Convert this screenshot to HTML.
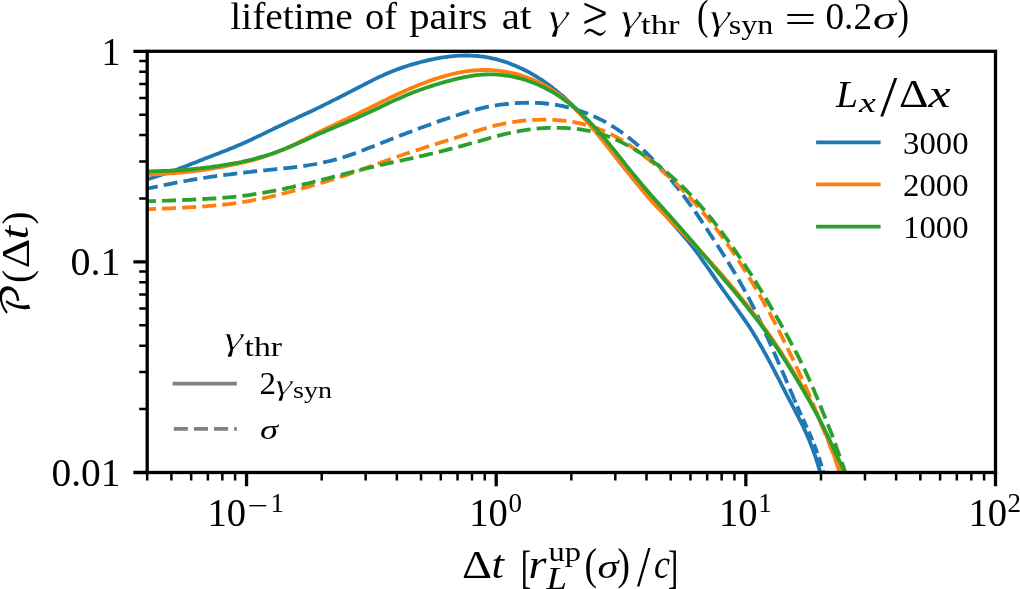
<!DOCTYPE html>
<html lang="en"><head><meta charset="utf-8"><title>lifetime of pairs</title>
<style>html,body{margin:0;padding:0;background:#fff;overflow:hidden}svg{display:block}text{font-family:"Liberation Serif","DejaVu Serif",serif;fill:#000}.i{font-style:italic}.m{font-family:"DejaVu Math TeX Gyre","DejaVu Sans","Liberation Serif",serif}</style></head><body>
<svg width="1020" height="589" viewBox="0 0 1020 589">
<rect width="1020" height="589" fill="#fff"/>
<defs><clipPath id="ax"><rect x="147.2" y="51.3" width="848.3" height="421.2"/></clipPath></defs>
<g clip-path="url(#ax)" fill="none" stroke-linejoin="round">
<path d="M140.1 181.4 L142.9 180.6 L145.8 179.7 L148.7 178.8 L151.5 178.0 L154.4 177.1 L157.3 176.2 L160.1 175.3 L163.0 174.3 L165.8 173.4 L168.6 172.4 L171.5 171.5 L174.3 170.5 L177.1 169.5 L179.9 168.4 L182.7 167.4 L185.5 166.3 L188.3 165.2 L191.1 164.1 L193.9 163.0 L196.6 161.9 L199.4 160.8 L202.2 159.7 L205.0 158.6 L207.8 157.5 L210.6 156.4 L213.4 155.3 L216.2 154.3 L219.0 153.2 L221.8 152.1 L224.6 151.0 L227.3 149.9 L230.1 148.8 L232.9 147.7 L235.7 146.5 L238.4 145.3 L241.2 144.2 L243.9 142.9 L246.6 141.7 L249.4 140.5 L252.1 139.2 L254.8 137.9 L257.5 136.6 L260.2 135.4 L262.9 134.1 L265.6 132.8 L268.3 131.4 L271.0 130.1 L273.7 128.8 L276.4 127.5 L279.1 126.2 L281.8 125.0 L284.5 123.7 L287.2 122.4 L289.9 121.1 L292.7 119.9 L295.4 118.6 L298.1 117.3 L300.8 116.1 L303.5 114.8 L306.2 113.5 L308.9 112.3 L311.7 111.0 L314.4 109.7 L317.1 108.4 L319.8 107.1 L322.5 105.8 L325.1 104.4 L327.8 103.1 L330.5 101.8 L333.2 100.4 L335.9 99.1 L338.6 97.7 L341.2 96.4 L343.9 95.0 L346.6 93.6 L349.2 92.3 L351.9 90.9 L354.6 89.5 L357.2 88.1 L359.9 86.7 L362.6 85.4 L365.2 84.0 L367.9 82.6 L370.6 81.3 L373.2 79.9 L375.9 78.6 L378.6 77.3 L381.4 76.1 L384.1 74.8 L386.8 73.6 L389.6 72.4 L392.3 71.3 L395.1 70.2 L397.9 69.1 L400.7 68.1 L403.6 67.1 L406.4 66.2 L409.3 65.3 L412.1 64.4 L415.0 63.6 L417.9 62.8 L420.8 62.0 L423.7 61.3 L426.7 60.6 L429.6 59.9 L432.5 59.3 L435.5 58.7 L438.4 58.1 L441.4 57.6 L444.4 57.2 L447.3 56.8 L450.3 56.4 L453.3 56.1 L456.3 55.9 L459.3 55.7 L462.3 55.6 L465.3 55.5 L468.2 55.5 L471.2 55.6 L474.2 55.8 L477.2 56.0 L480.2 56.3 L483.1 56.7 L486.1 57.2 L489.0 57.7 L492.0 58.3 L494.9 58.9 L497.8 59.7 L500.6 60.5 L503.5 61.4 L506.4 62.3 L509.2 63.3 L512.0 64.4 L514.8 65.5 L517.5 66.7 L520.2 67.9 L522.9 69.2 L525.6 70.5 L528.3 71.9 L530.9 73.4 L533.5 74.9 L536.1 76.4 L538.6 78.0 L541.2 79.6 L543.6 81.3 L546.1 83.0 L548.5 84.8 L551.0 86.6 L553.3 88.4 L555.7 90.3 L558.0 92.2 L560.3 94.1 L562.6 96.0 L564.8 98.0 L567.0 100.1 L569.2 102.1 L571.4 104.2 L573.6 106.3 L575.7 108.4 L577.8 110.5 L579.8 112.7 L581.9 114.9 L583.9 117.1 L585.9 119.4 L587.9 121.6 L589.8 123.9 L591.8 126.2 L593.7 128.5 L595.6 130.8 L597.4 133.1 L599.3 135.5 L601.2 137.9 L603.0 140.2 L604.8 142.6 L606.6 145.0 L608.5 147.4 L610.3 149.8 L612.1 152.2 L613.9 154.6 L615.7 156.9 L617.6 159.3 L619.4 161.7 L621.3 164.0 L623.1 166.4 L625.0 168.7 L626.9 171.1 L628.8 173.4 L630.7 175.7 L632.6 178.0 L634.5 180.3 L636.5 182.6 L638.4 184.9 L640.4 187.1 L642.3 189.4 L644.3 191.7 L646.3 193.9 L648.3 196.1 L650.3 198.4 L652.2 200.6 L654.3 202.9 L656.3 205.1 L658.3 207.3 L660.3 209.5 L662.3 211.8 L664.3 214.0 L666.3 216.2 L668.3 218.5 L670.3 220.7 L672.3 222.9 L674.3 225.2 L676.3 227.4 L678.2 229.7 L680.2 231.9 L682.2 234.2 L684.1 236.5 L686.0 238.8 L688.0 241.1 L689.8 243.4 L691.7 245.7 L693.6 248.1 L695.4 250.4 L697.2 252.8 L699.0 255.2 L700.7 257.7 L702.4 260.1 L704.1 262.6 L705.9 265.0 L707.6 267.5 L709.3 269.9 L711.0 272.4 L712.7 274.9 L714.4 277.3 L716.1 279.8 L717.8 282.3 L719.5 284.7 L721.3 287.1 L723.0 289.6 L724.7 292.0 L726.5 294.5 L728.2 296.9 L730.0 299.3 L731.8 301.8 L733.5 304.2 L735.3 306.6 L737.0 309.1 L738.8 311.5 L740.5 314.0 L742.2 316.4 L743.9 318.9 L745.6 321.3 L747.3 323.8 L749.0 326.3 L750.6 328.8 L752.2 331.3 L753.8 333.9 L755.4 336.4 L756.9 339.0 L758.4 341.6 L759.9 344.2 L761.4 346.8 L762.9 349.4 L764.3 352.0 L765.8 354.6 L767.2 357.2 L768.6 359.9 L770.1 362.5 L771.5 365.2 L772.9 367.8 L774.3 370.5 L775.6 373.1 L777.0 375.8 L778.4 378.5 L779.8 381.1 L781.1 383.8 L782.5 386.5 L783.9 389.1 L785.2 391.8 L786.6 394.5 L788.0 397.1 L789.4 399.8 L790.8 402.4 L792.2 405.1 L793.6 407.8 L795.0 410.4 L796.3 413.1 L797.7 415.7 L799.1 418.4 L800.4 421.1 L801.8 423.8 L803.1 426.5 L804.3 429.2 L805.6 431.9 L806.8 434.6 L808.0 437.4 L809.2 440.1 L810.3 442.9 L811.4 445.7 L812.5 448.5 L813.5 451.3 L814.5 454.1 L815.5 456.9 L816.4 459.8 L817.3 462.6 L818.2 465.5 L819.1 468.4 L819.9 471.2 L820.8 474.1 L821.6 477.0 L822.4 479.9" stroke="#1f77b4" stroke-width="3.8" stroke-linecap="square"/>
<path d="M147.2 188.6 L150.1 188.0 L153.0 187.4 L156.0 186.8 L158.9 186.2 L161.8 185.6 L164.8 185.0 L167.7 184.4 L170.6 183.8 L173.6 183.2 L176.5 182.6 L179.4 182.1 L182.4 181.5 L185.3 181.0 L188.3 180.5 L191.2 179.9 L194.2 179.4 L197.1 179.0 L200.1 178.5 L203.0 178.0 L206.0 177.6 L209.0 177.1 L211.9 176.7 L214.9 176.3 L217.8 175.9 L220.8 175.5 L223.8 175.1 L226.7 174.7 L229.7 174.4 L232.7 174.0 L235.6 173.6 L238.6 173.3 L241.6 172.9 L244.6 172.6 L247.5 172.2 L250.5 171.9 L253.5 171.5 L256.5 171.2 L259.4 170.9 L262.4 170.6 L265.4 170.3 L268.4 169.9 L271.3 169.6 L274.3 169.3 L277.3 169.0 L280.3 168.7 L283.3 168.4 L286.2 168.1 L289.2 167.8 L292.2 167.5 L295.2 167.1 L298.1 166.7 L301.1 166.3 L304.1 165.9 L307.0 165.5 L310.0 165.0 L312.9 164.5 L315.9 164.0 L318.8 163.4 L321.7 162.8 L324.6 162.2 L327.5 161.5 L330.5 160.8 L333.3 160.1 L336.2 159.3 L339.1 158.5 L342.0 157.7 L344.8 156.8 L347.7 155.9 L350.5 154.9 L353.3 153.9 L356.1 152.9 L358.9 151.9 L361.7 150.8 L364.5 149.7 L367.3 148.6 L370.1 147.5 L372.9 146.4 L375.6 145.3 L378.4 144.2 L381.2 143.1 L384.0 142.0 L386.8 140.9 L389.5 139.8 L392.3 138.7 L395.1 137.6 L397.9 136.5 L400.7 135.4 L403.5 134.4 L406.3 133.3 L409.1 132.2 L411.9 131.2 L414.7 130.1 L417.5 129.1 L420.3 128.0 L423.1 127.0 L425.9 126.0 L428.7 125.0 L431.6 124.0 L434.4 122.9 L437.2 121.9 L440.0 120.9 L442.8 119.9 L445.7 119.0 L448.5 118.0 L451.3 117.0 L454.2 116.1 L457.0 115.2 L459.9 114.3 L462.7 113.4 L465.6 112.5 L468.5 111.7 L471.4 110.8 L474.2 110.1 L477.1 109.3 L480.0 108.6 L482.9 107.9 L485.9 107.2 L488.8 106.6 L491.7 106.1 L494.7 105.6 L497.6 105.1 L500.6 104.7 L503.5 104.3 L506.5 104.0 L509.5 103.7 L512.5 103.4 L515.5 103.2 L518.5 103.0 L521.4 102.9 L524.4 102.8 L527.4 102.7 L530.4 102.8 L533.4 102.8 L536.4 102.9 L539.4 103.0 L542.4 103.2 L545.4 103.5 L548.4 103.8 L551.3 104.2 L554.3 104.6 L557.2 105.0 L560.2 105.6 L563.1 106.2 L566.0 106.8 L568.9 107.6 L571.8 108.3 L574.7 109.2 L577.5 110.0 L580.4 111.0 L583.2 112.0 L586.0 113.0 L588.8 114.1 L591.5 115.3 L594.3 116.5 L597.0 117.7 L599.7 119.1 L602.3 120.4 L605.0 121.8 L607.6 123.3 L610.1 124.8 L612.7 126.4 L615.2 128.0 L617.7 129.6 L620.2 131.3 L622.6 133.1 L625.0 134.8 L627.4 136.6 L629.8 138.5 L632.1 140.4 L634.4 142.3 L636.7 144.2 L639.0 146.1 L641.2 148.1 L643.4 150.2 L645.6 152.2 L647.8 154.3 L649.9 156.4 L652.0 158.5 L654.1 160.6 L656.2 162.8 L658.2 165.0 L660.2 167.2 L662.2 169.5 L664.2 171.7 L666.1 174.0 L668.1 176.3 L670.0 178.6 L671.9 180.9 L673.8 183.2 L675.7 185.5 L677.5 187.9 L679.4 190.2 L681.2 192.6 L683.0 195.0 L684.8 197.4 L686.6 199.8 L688.3 202.2 L690.1 204.6 L691.8 207.1 L693.6 209.5 L695.3 211.9 L697.0 214.4 L698.7 216.9 L700.4 219.3 L702.0 221.8 L703.7 224.3 L705.3 226.8 L707.0 229.3 L708.6 231.8 L710.2 234.3 L711.9 236.8 L713.5 239.3 L715.2 241.8 L716.8 244.3 L718.4 246.8 L720.0 249.4 L721.7 251.9 L723.3 254.4 L724.9 256.9 L726.4 259.5 L728.0 262.0 L729.6 264.6 L731.1 267.1 L732.7 269.7 L734.2 272.2 L735.8 274.8 L737.3 277.4 L738.8 280.0 L740.3 282.6 L741.7 285.2 L743.2 287.8 L744.6 290.4 L746.1 293.0 L747.5 295.7 L748.9 298.3 L750.3 301.0 L751.6 303.6 L753.0 306.3 L754.3 308.9 L755.6 311.6 L756.9 314.3 L758.2 317.0 L759.5 319.7 L760.7 322.5 L761.9 325.2 L763.2 327.9 L764.4 330.6 L765.6 333.4 L766.8 336.1 L768.0 338.8 L769.2 341.6 L770.5 344.3 L771.7 347.0 L772.9 349.8 L774.1 352.5 L775.3 355.2 L776.5 358.0 L777.7 360.7 L778.9 363.4 L780.1 366.2 L781.3 368.9 L782.5 371.7 L783.7 374.4 L784.9 377.2 L786.0 379.9 L787.2 382.7 L788.4 385.4 L789.5 388.2 L790.7 390.9 L791.9 393.7 L793.0 396.4 L794.2 399.2" stroke="#1f77b4" stroke-width="3.8" stroke-dasharray="14.06 6.08" stroke-dashoffset="3.3"/>
<path d="M794.2 399.2 L795.4 401.9 L796.6 404.7 L797.8 407.4 L799.0 410.2 L800.2 412.9 L801.5 415.6 L802.7 418.3 L803.9 421.0 L805.2 423.8 L806.4 426.5 L807.7 429.2 L808.9 431.9 L810.1 434.7 L811.3 437.4 L812.4 440.2 L813.5 442.9 L814.6 445.7 L815.7 448.5 L816.7 451.3 L817.7 454.1 L818.7 456.9 L819.6 459.8 L820.5 462.6 L821.4 465.5 L822.2 468.4 L823.1 471.2 L823.9 474.1 L824.7 477.0 L825.5 479.8" stroke="#1f77b4" stroke-width="3.8" stroke-dasharray="9.6 4.2" stroke-dashoffset="6"/>
<path d="M140.0 175.0 L143.0 174.9 L146.0 174.7 L149.0 174.6 L152.0 174.4 L155.0 174.3 L157.9 174.1 L160.9 174.0 L163.9 173.8 L166.9 173.6 L169.9 173.4 L172.9 173.2 L175.9 173.0 L178.8 172.7 L181.8 172.5 L184.8 172.2 L187.8 171.9 L190.7 171.6 L193.7 171.2 L196.7 170.8 L199.6 170.4 L202.6 170.0 L205.6 169.6 L208.5 169.1 L211.5 168.7 L214.4 168.2 L217.4 167.7 L220.3 167.2 L223.3 166.6 L226.2 166.1 L229.2 165.5 L232.1 164.9 L235.0 164.3 L237.9 163.7 L240.9 163.0 L243.8 162.3 L246.7 161.6 L249.6 160.9 L252.5 160.1 L255.3 159.3 L258.2 158.5 L261.1 157.6 L263.9 156.7 L266.8 155.8 L269.6 154.8 L272.4 153.8 L275.2 152.7 L278.0 151.7 L280.7 150.5 L283.5 149.4 L286.2 148.2 L288.9 146.9 L291.6 145.7 L294.3 144.4 L297.0 143.1 L299.7 141.8 L302.4 140.4 L305.1 139.1 L307.7 137.7 L310.4 136.4 L313.1 135.1 L315.8 133.7 L318.4 132.4 L321.1 131.1 L323.8 129.8 L326.5 128.5 L329.2 127.2 L331.9 125.9 L334.6 124.6 L337.3 123.3 L340.0 122.1 L342.7 120.8 L345.5 119.6 L348.2 118.3 L350.9 117.0 L353.6 115.7 L356.3 114.5 L359.0 113.2 L361.7 111.8 L364.3 110.5 L367.0 109.2 L369.7 107.9 L372.4 106.5 L375.1 105.2 L377.7 103.9 L380.4 102.5 L383.1 101.2 L385.8 99.9 L388.5 98.5 L391.2 97.2 L393.9 96.0 L396.6 94.7 L399.3 93.4 L402.0 92.2 L404.7 91.0 L407.5 89.8 L410.2 88.6 L413.0 87.4 L415.8 86.3 L418.5 85.1 L421.3 84.0 L424.1 83.0 L426.9 81.9 L429.8 80.9 L432.6 79.9 L435.4 78.9 L438.3 78.0 L441.1 77.1 L444.0 76.3 L446.9 75.5 L449.8 74.7 L452.7 74.0 L455.6 73.3 L458.6 72.7 L461.5 72.2 L464.4 71.6 L467.4 71.2 L470.4 70.8 L473.3 70.5 L476.3 70.3 L479.3 70.1 L482.3 70.0 L485.2 69.9 L488.2 70.0 L491.2 70.1 L494.2 70.3 L497.2 70.6 L500.1 70.9 L503.1 71.3 L506.0 71.8 L509.0 72.3 L511.9 73.0 L514.8 73.7 L517.7 74.4 L520.6 75.3 L523.4 76.2 L526.3 77.2 L529.1 78.2 L531.9 79.3 L534.6 80.5 L537.3 81.7 L540.0 83.0 L542.7 84.4 L545.3 85.8 L547.9 87.3 L550.4 88.9 L552.9 90.5 L555.4 92.1 L557.8 93.9 L560.2 95.7 L562.6 97.5 L564.9 99.4 L567.1 101.3 L569.4 103.3 L571.5 105.4 L573.7 107.4 L575.8 109.5 L577.9 111.7 L580.0 113.8 L582.0 116.1 L584.0 118.3 L586.0 120.5 L588.0 122.8 L589.9 125.1 L591.8 127.4 L593.8 129.7 L595.7 132.0 L597.6 134.3 L599.5 136.7 L601.4 139.0 L603.3 141.3 L605.2 143.6 L607.0 146.0 L608.9 148.3 L610.8 150.6 L612.7 153.0 L614.6 155.3 L616.4 157.6 L618.3 160.0 L620.2 162.3 L622.0 164.7 L623.9 167.0 L625.7 169.4 L627.6 171.7 L629.4 174.1 L631.3 176.4 L633.1 178.8 L635.0 181.1 L636.8 183.5 L638.7 185.8 L640.6 188.1 L642.4 190.4 L644.3 192.7 L646.3 195.0 L648.2 197.3 L650.2 199.5 L652.2 201.7 L654.2 203.9 L656.3 206.1 L658.3 208.2 L660.4 210.4 L662.5 212.5 L664.6 214.6 L666.7 216.8 L668.8 218.9 L670.9 221.0 L673.0 223.1 L675.1 225.2 L677.3 227.3 L679.4 229.5 L681.5 231.6 L683.6 233.7 L685.7 235.8 L687.8 238.0 L689.9 240.1 L692.0 242.3 L694.0 244.4 L696.1 246.6 L698.2 248.8 L700.2 250.9 L702.3 253.1 L704.3 255.3 L706.3 257.5 L708.4 259.7 L710.4 261.9 L712.4 264.1 L714.4 266.4 L716.4 268.6 L718.4 270.8 L720.4 273.1 L722.3 275.3 L724.3 277.6 L726.2 279.9 L728.2 282.1 L730.1 284.4 L732.0 286.7 L734.0 289.0 L735.9 291.3 L737.8 293.6 L739.7 295.9 L741.5 298.3 L743.4 300.6 L745.3 302.9 L747.2 305.3 L749.0 307.6 L750.9 310.0 L752.7 312.3 L754.5 314.7 L756.3 317.1 L758.1 319.5 L759.9 321.9 L761.7 324.3 L763.5 326.7 L765.2 329.1 L767.0 331.5 L768.7 334.0 L770.4 336.4 L772.1 338.9 L773.8 341.4 L775.5 343.9 L777.1 346.3 L778.8 348.8 L780.4 351.3 L782.1 353.9 L783.7 356.4 L785.3 358.9 L786.9 361.4 L788.5 363.9 L790.1 366.5 L791.7 369.0 L793.3 371.6 L794.8 374.1 L796.4 376.7 L797.9 379.2 L799.5 381.8 L801.0 384.4 L802.5 387.0 L804.0 389.6 L805.5 392.2 L806.9 394.8 L808.4 397.4 L809.8 400.0 L811.2 402.7 L812.6 405.3 L813.9 408.0 L815.3 410.6 L816.6 413.3 L817.8 416.0 L819.1 418.7 L820.3 421.5 L821.5 424.2 L822.7 426.9 L823.9 429.7 L825.1 432.4 L826.2 435.2 L827.4 438.0 L828.5 440.7 L829.6 443.5 L830.7 446.3 L831.8 449.1 L832.9 451.9 L833.9 454.7 L834.9 457.5 L836.0 460.3 L837.0 463.1 L838.0 465.9 L839.0 468.7 L840.0 471.5 L841.0 474.4 L842.0 477.2 L843.0 480.0" stroke="#ff7f0e" stroke-width="3.8" stroke-linecap="square"/>
<path d="M147.2 209.2 L150.2 209.1 L153.2 209.0 L156.2 208.9 L159.2 208.8 L162.1 208.6 L165.1 208.5 L168.1 208.4 L171.1 208.3 L174.1 208.1 L177.1 208.0 L180.1 207.8 L183.1 207.7 L186.0 207.5 L189.0 207.4 L192.0 207.2 L195.0 207.0 L198.0 206.8 L201.0 206.6 L204.0 206.4 L206.9 206.2 L209.9 205.9 L212.9 205.7 L215.9 205.4 L218.9 205.1 L221.8 204.8 L224.8 204.5 L227.8 204.2 L230.7 203.8 L233.7 203.4 L236.7 203.0 L239.6 202.6 L242.6 202.1 L245.5 201.6 L248.5 201.1 L251.4 200.6 L254.3 200.0 L257.3 199.5 L260.2 198.9 L263.1 198.3 L266.1 197.6 L269.0 197.0 L271.9 196.3 L274.8 195.6 L277.7 194.9 L280.6 194.2 L283.5 193.5 L286.4 192.7 L289.3 192.0 L292.2 191.2 L295.1 190.4 L298.0 189.6 L300.8 188.8 L303.7 188.0 L306.6 187.2 L309.5 186.4 L312.3 185.5 L315.2 184.7 L318.1 183.8 L321.0 183.0 L323.8 182.1 L326.7 181.3 L329.5 180.4 L332.4 179.5 L335.2 178.6 L338.1 177.7 L340.9 176.8 L343.8 175.9 L346.6 174.9 L349.4 174.0 L352.3 173.0 L355.1 172.0 L357.9 171.0 L360.7 170.0 L363.5 169.0 L366.3 167.9 L369.1 166.9 L371.9 165.9 L374.8 164.8 L377.6 163.8 L380.4 162.8 L383.2 161.7 L386.0 160.7 L388.8 159.7 L391.6 158.7 L394.4 157.7 L397.3 156.7 L400.1 155.8 L402.9 154.8 L405.7 153.8 L408.6 152.9 L411.4 151.9 L414.3 151.0 L417.1 150.1 L420.0 149.2 L422.8 148.2 L425.6 147.3 L428.5 146.4 L431.3 145.5 L434.2 144.6 L437.0 143.7 L439.9 142.8 L442.7 141.9 L445.6 141.0 L448.5 140.1 L451.3 139.2 L454.2 138.3 L457.0 137.4 L459.9 136.5 L462.7 135.5 L465.5 134.6 L468.4 133.7 L471.2 132.7 L474.1 131.8 L476.9 130.9 L479.8 130.0 L482.6 129.1 L485.5 128.3 L488.4 127.4 L491.2 126.7 L494.1 125.9 L497.0 125.2 L499.9 124.5 L502.8 123.9 L505.8 123.3 L508.7 122.8 L511.7 122.3 L514.6 121.8 L517.6 121.4 L520.5 121.0 L523.5 120.7 L526.5 120.4 L529.5 120.2 L532.5 120.0 L535.4 119.9 L538.4 119.8 L541.4 119.7 L544.4 119.7 L547.4 119.7 L550.4 119.8 L553.4 119.9 L556.4 120.1 L559.4 120.3 L562.4 120.6 L565.3 120.9 L568.3 121.3 L571.3 121.7 L574.2 122.2 L577.2 122.8 L580.1 123.4 L583.0 124.1 L585.9 124.8 L588.8 125.6 L591.6 126.4 L594.4 127.3 L597.3 128.3 L600.0 129.4 L602.8 130.5 L605.5 131.7 L608.2 132.9 L610.9 134.2 L613.5 135.6 L616.2 137.0 L618.8 138.5 L621.3 140.0 L623.9 141.6 L626.4 143.2 L628.9 144.9 L631.3 146.6 L633.8 148.3 L636.2 150.0 L638.6 151.8 L641.0 153.6 L643.4 155.4 L645.8 157.3 L648.1 159.1 L650.5 161.0 L652.8 162.9 L655.1 164.8 L657.4 166.8 L659.7 168.7 L662.0 170.7 L664.2 172.6 L666.4 174.6 L668.7 176.6 L670.9 178.6 L673.1 180.6 L675.3 182.7 L677.4 184.7 L679.6 186.8 L681.7 188.9 L683.7 191.1 L685.8 193.2 L687.9 195.4 L689.9 197.6 L691.9 199.8 L693.9 202.0 L695.9 204.3 L697.9 206.5 L699.8 208.8 L701.8 211.0 L703.7 213.3 L705.6 215.6 L707.5 217.9 L709.4 220.2 L711.3 222.6 L713.1 224.9 L715.0 227.3 L716.8 229.6 L718.6 232.0 L720.4 234.4 L722.2 236.8 L724.0 239.2 L725.7 241.6 L727.4 244.1 L729.1 246.5 L730.8 249.0 L732.5 251.5 L734.2 253.9 L735.9 256.4 L737.5 258.9 L739.1 261.4 L740.8 264.0 L742.4 266.5 L744.0 269.0 L745.5 271.5 L747.1 274.1 L748.7 276.6 L750.2 279.2 L751.8 281.8 L753.3 284.3 L754.8 286.9 L756.4 289.5 L757.9 292.1 L759.4 294.6 L760.8 297.2 L762.3 299.8 L763.8 302.5 L765.2 305.1 L766.7 307.7 L768.1 310.3 L769.6 312.9 L771.0 315.6 L772.4 318.2 L773.8 320.8 L775.2 323.5 L776.6 326.1 L777.9 328.8 L779.3 331.5 L780.6 334.1 L782.0 336.8 L783.3 339.5 L784.6 342.2 L786.0 344.8 L787.3 347.5 L788.6 350.2 L789.8 352.9 L791.1 355.6 L792.4 358.3 L793.7 361.0 L795.0 363.7 L796.2 366.4 L797.5 369.2 L798.8 371.9 L800.0 374.6 L801.3 377.3 L802.5 380.0 L803.8 382.7 L805.0 385.4 L806.3 388.1 L807.5 390.9 L808.7 393.6 L809.9 396.4 L811.0 399.1 L812.2 401.9 L813.4 404.6 L814.5 407.4 L815.6 410.1 L816.8 412.9 L817.9 415.7 L819.0 418.5 L820.1 421.2 L821.2 424.0 L822.3 426.8 L823.5 429.5 L824.6 432.3 L825.7 435.1 L826.8 437.8 L828.0 440.6 L829.1 443.4 L830.2 446.2 L831.3 449.0 L832.3 451.7 L833.4 454.5 L834.4 457.3 L835.4 460.1 L836.4 463.0 L837.4 465.8 L838.4 468.6 L839.4 471.4 L840.4 474.2 L841.3 477.1 L842.3 479.9" stroke="#ff7f0e" stroke-width="3.8" stroke-linecap="butt" stroke-dasharray="14.06 6.08" stroke-dashoffset="5.3"/>
<path d="M140.0 171.5 L143.0 171.5 L146.0 171.4 L149.0 171.4 L152.0 171.3 L155.0 171.2 L158.0 171.1 L161.0 171.0 L163.9 170.9 L166.9 170.8 L169.9 170.7 L172.9 170.5 L175.9 170.4 L178.9 170.2 L181.9 170.0 L184.9 169.8 L187.8 169.5 L190.8 169.3 L193.8 169.0 L196.8 168.7 L199.8 168.4 L202.7 168.0 L205.7 167.7 L208.7 167.3 L211.7 166.9 L214.6 166.5 L217.6 166.1 L220.5 165.7 L223.5 165.2 L226.5 164.7 L229.4 164.2 L232.4 163.7 L235.3 163.1 L238.2 162.6 L241.2 162.0 L244.1 161.3 L247.0 160.7 L249.9 160.0 L252.8 159.3 L255.7 158.5 L258.6 157.7 L261.5 156.9 L264.4 156.1 L267.2 155.2 L270.1 154.3 L272.9 153.4 L275.7 152.4 L278.5 151.3 L281.3 150.3 L284.1 149.2 L286.9 148.1 L289.6 146.9 L292.4 145.7 L295.1 144.6 L297.8 143.4 L300.6 142.1 L303.3 140.9 L306.1 139.7 L308.8 138.5 L311.5 137.2 L314.3 136.0 L317.0 134.8 L319.7 133.6 L322.5 132.4 L325.2 131.3 L328.0 130.1 L330.7 128.9 L333.5 127.8 L336.3 126.6 L339.0 125.4 L341.8 124.3 L344.6 123.2 L347.3 122.0 L350.1 120.8 L352.8 119.7 L355.6 118.5 L358.3 117.3 L361.0 116.1 L363.8 114.8 L366.5 113.6 L369.2 112.3 L371.9 111.0 L374.6 109.7 L377.3 108.5 L380.0 107.2 L382.7 105.9 L385.4 104.6 L388.1 103.3 L390.8 102.1 L393.5 100.8 L396.3 99.6 L399.0 98.4 L401.7 97.2 L404.5 96.0 L407.3 94.8 L410.0 93.7 L412.8 92.6 L415.6 91.5 L418.4 90.5 L421.2 89.5 L424.0 88.5 L426.9 87.5 L429.7 86.6 L432.6 85.6 L435.4 84.7 L438.3 83.9 L441.2 83.0 L444.1 82.2 L447.0 81.4 L449.9 80.6 L452.8 79.8 L455.7 79.1 L458.6 78.4 L461.5 77.8 L464.5 77.2 L467.4 76.6 L470.4 76.1 L473.3 75.6 L476.3 75.2 L479.2 74.9 L482.2 74.6 L485.2 74.5 L488.2 74.4 L491.1 74.4 L494.1 74.4 L497.1 74.6 L500.1 74.8 L503.0 75.1 L506.0 75.5 L508.9 75.9 L511.9 76.5 L514.8 77.1 L517.7 77.8 L520.6 78.5 L523.5 79.3 L526.3 80.2 L529.1 81.2 L532.0 82.2 L534.7 83.3 L537.5 84.4 L540.2 85.7 L543.0 86.9 L545.6 88.3 L548.3 89.7 L550.9 91.1 L553.5 92.6 L556.0 94.2 L558.5 95.8 L561.0 97.5 L563.5 99.2 L565.9 101.0 L568.3 102.8 L570.7 104.6 L573.0 106.5 L575.3 108.4 L577.5 110.4 L579.8 112.4 L582.0 114.4 L584.1 116.5 L586.3 118.6 L588.4 120.7 L590.5 122.8 L592.6 125.0 L594.6 127.2 L596.7 129.4 L598.7 131.6 L600.6 133.9 L602.6 136.1 L604.6 138.4 L606.5 140.7 L608.4 143.0 L610.3 145.3 L612.2 147.7 L614.1 150.0 L616.0 152.3 L617.8 154.7 L619.7 157.0 L621.6 159.4 L623.4 161.7 L625.3 164.1 L627.1 166.4 L629.0 168.7 L630.9 171.1 L632.8 173.4 L634.7 175.7 L636.6 178.0 L638.5 180.3 L640.4 182.6 L642.3 184.9 L644.3 187.2 L646.2 189.5 L648.2 191.7 L650.1 194.0 L652.1 196.2 L654.1 198.5 L656.1 200.7 L658.1 202.9 L660.1 205.2 L662.1 207.4 L664.1 209.6 L666.1 211.9 L668.1 214.1 L670.1 216.3 L672.1 218.5 L674.1 220.8 L676.1 223.0 L678.1 225.2 L680.1 227.5 L682.1 229.7 L684.0 232.0 L686.0 234.2 L688.0 236.5 L689.9 238.7 L691.9 241.0 L693.8 243.3 L695.8 245.6 L697.7 247.8 L699.6 250.1 L701.5 252.4 L703.5 254.7 L705.4 257.0 L707.3 259.3 L709.2 261.6 L711.1 263.9 L713.1 266.2 L715.0 268.5 L716.9 270.8 L718.8 273.1 L720.8 275.4 L722.7 277.7 L724.6 280.0 L726.5 282.3 L728.5 284.5 L730.4 286.8 L732.3 289.1 L734.3 291.4 L736.2 293.7 L738.1 296.0 L740.0 298.3 L741.9 300.6 L743.8 303.0 L745.7 305.3 L747.6 307.6 L749.4 310.0 L751.3 312.3 L753.1 314.7 L755.0 317.0 L756.8 319.4 L758.6 321.8 L760.4 324.2 L762.2 326.6 L763.9 329.0 L765.7 331.4 L767.4 333.9 L769.1 336.3 L770.8 338.8 L772.5 341.3 L774.2 343.7 L775.8 346.2 L777.5 348.7 L779.1 351.2 L780.8 353.7 L782.4 356.3 L784.0 358.8 L785.6 361.3 L787.2 363.8 L788.8 366.4 L790.4 368.9 L791.9 371.5 L793.5 374.0 L795.1 376.6 L796.6 379.1 L798.2 381.7 L799.7 384.3 L801.2 386.8 L802.8 389.4 L804.3 392.0 L805.8 394.6 L807.3 397.2 L808.8 399.8 L810.2 402.4 L811.7 405.0 L813.1 407.6 L814.6 410.3 L816.0 412.9 L817.4 415.5 L818.8 418.2 L820.2 420.8 L821.6 423.5 L823.0 426.1 L824.3 428.8 L825.6 431.5 L826.9 434.2 L828.2 436.9 L829.5 439.6 L830.7 442.3 L832.0 445.0 L833.3 447.7 L834.5 450.4 L835.8 453.2 L837.0 455.9 L838.3 458.6 L839.6 461.3 L840.9 464.0 L842.2 466.7 L843.5 469.4 L844.8 472.0 L846.2 474.7 L847.5 477.4 L848.8 480.1" stroke="#2ca02c" stroke-width="3.8" stroke-linecap="square"/>
<path d="M147.2 201.2 L150.2 201.2 L153.2 201.1 L156.2 201.0 L159.2 200.9 L162.1 200.8 L165.1 200.7 L168.1 200.6 L171.1 200.5 L174.1 200.4 L177.1 200.2 L180.1 200.1 L183.1 200.0 L186.1 199.9 L189.0 199.8 L192.0 199.6 L195.0 199.5 L198.0 199.4 L201.0 199.2 L204.0 199.0 L207.0 198.9 L209.9 198.7 L212.9 198.5 L215.9 198.3 L218.9 198.1 L221.9 197.9 L224.9 197.6 L227.8 197.4 L230.8 197.1 L233.8 196.8 L236.8 196.5 L239.7 196.2 L242.7 195.8 L245.7 195.5 L248.6 195.1 L251.6 194.6 L254.5 194.2 L257.5 193.7 L260.4 193.3 L263.4 192.8 L266.3 192.2 L269.3 191.7 L272.2 191.1 L275.1 190.6 L278.1 190.0 L281.0 189.4 L283.9 188.8 L286.9 188.1 L289.8 187.5 L292.7 186.9 L295.6 186.2 L298.5 185.5 L301.4 184.9 L304.4 184.2 L307.3 183.5 L310.2 182.8 L313.1 182.0 L316.0 181.3 L318.9 180.6 L321.8 179.9 L324.7 179.1 L327.6 178.4 L330.5 177.6 L333.3 176.8 L336.2 176.1 L339.1 175.3 L342.0 174.6 L344.9 173.8 L347.8 173.0 L350.7 172.3 L353.6 171.5 L356.5 170.8 L359.4 170.1 L362.3 169.4 L365.2 168.7 L368.1 168.0 L371.0 167.3 L373.9 166.6 L376.8 165.9 L379.7 165.2 L382.7 164.6 L385.6 163.9 L388.5 163.3 L391.4 162.6 L394.3 162.0 L397.3 161.3 L400.2 160.7 L403.1 160.1 L406.0 159.4 L408.9 158.8 L411.9 158.2 L414.8 157.5 L417.7 156.9 L420.6 156.2 L423.5 155.6 L426.4 154.9 L429.4 154.2 L432.3 153.5 L435.2 152.8 L438.1 152.1 L441.0 151.4 L443.9 150.6 L446.8 149.9 L449.6 149.1 L452.5 148.4 L455.4 147.6 L458.3 146.8 L461.2 146.1 L464.1 145.3 L467.0 144.5 L469.9 143.7 L472.7 142.9 L475.6 142.1 L478.5 141.3 L481.4 140.5 L484.3 139.7 L487.1 138.8 L490.0 138.0 L492.9 137.2 L495.8 136.5 L498.7 135.7 L501.6 134.9 L504.5 134.2 L507.4 133.5 L510.3 132.9 L513.2 132.3 L516.1 131.7 L519.1 131.1 L522.0 130.6 L525.0 130.1 L527.9 129.7 L530.9 129.3 L533.9 128.9 L536.8 128.6 L539.8 128.4 L542.8 128.2 L545.8 128.0 L548.8 127.9 L551.8 127.8 L554.8 127.7 L557.8 127.8 L560.8 127.8 L563.7 127.9 L566.7 128.1 L569.7 128.3 L572.7 128.5 L575.7 128.8 L578.6 129.2 L581.6 129.6 L584.5 130.1 L587.5 130.6 L590.4 131.2 L593.3 131.9 L596.2 132.6 L599.1 133.4 L601.9 134.2 L604.7 135.2 L607.5 136.2 L610.3 137.2 L613.0 138.4 L615.8 139.6 L618.5 140.8 L621.2 142.1 L623.8 143.4 L626.5 144.8 L629.1 146.3 L631.7 147.7 L634.3 149.2 L636.9 150.8 L639.4 152.4 L641.9 154.0 L644.4 155.6 L646.9 157.3 L649.4 159.0 L651.8 160.7 L654.3 162.5 L656.7 164.3 L659.0 166.1 L661.4 168.0 L663.7 169.8 L666.1 171.7 L668.3 173.6 L670.6 175.6 L672.9 177.6 L675.1 179.6 L677.3 181.6 L679.5 183.6 L681.6 185.7 L683.7 187.8 L685.8 189.9 L687.9 192.1 L690.0 194.2 L692.0 196.4 L694.1 198.6 L696.1 200.8 L698.1 203.1 L700.1 205.3 L702.0 207.6 L704.0 209.8 L705.9 212.1 L707.8 214.4 L709.7 216.7 L711.6 219.0 L713.5 221.4 L715.3 223.7 L717.1 226.1 L718.9 228.5 L720.8 230.9 L722.5 233.2 L724.3 235.7 L726.1 238.1 L727.9 240.5 L729.6 242.9 L731.3 245.3 L733.1 247.8 L734.8 250.2 L736.5 252.7 L738.2 255.2 L739.9 257.6 L741.5 260.1 L743.2 262.6 L744.9 265.1 L746.5 267.6 L748.1 270.1 L749.8 272.6 L751.4 275.1 L753.0 277.6 L754.6 280.2 L756.2 282.7 L757.7 285.2 L759.3 287.8 L760.9 290.3 L762.4 292.9 L764.0 295.4 L765.5 298.0 L767.1 300.6 L768.6 303.1 L770.1 305.7 L771.6 308.3 L773.1 310.9 L774.6 313.5 L776.1 316.0 L777.6 318.6 L779.1 321.2 L780.6 323.8 L782.0 326.4 L783.5 329.1 L785.0 331.7 L786.4 334.3 L787.8 336.9 L789.3 339.5 L790.7 342.2 L792.1 344.8 L793.5 347.4 L794.9 350.1 L796.3 352.7 L797.7 355.4 L799.0 358.0 L800.4 360.7 L801.7 363.4 L803.0 366.1 L804.3 368.8 L805.6 371.5 L806.9 374.2 L808.1 376.9 L809.3 379.6 L810.5 382.4 L811.7 385.1 L812.9 387.8 L814.1 390.6 L815.2 393.4 L816.4 396.1 L817.5 398.9 L818.6 401.6 L819.8 404.4 L820.9 407.2 L822.0 410.0 L823.1 412.7 L824.3 415.5 L825.4 418.3 L826.5 421.0 L827.6 423.8 L828.7 426.6 L829.8 429.4 L830.9 432.1 L832.0 434.9 L833.0 437.7 L834.1 440.5 L835.1 443.3 L836.1 446.1 L837.1 449.0 L838.1 451.8 L839.1 454.6 L840.1 457.4 L841.1 460.2 L842.1 463.1 L843.1 465.9 L844.1 468.7 L845.0 471.5 L846.0 474.4 L847.0 477.2 L848.0 480.0" stroke="#2ca02c" stroke-width="3.8" stroke-linecap="butt" stroke-dasharray="14.06 6.08" stroke-dashoffset="5.3"/>
</g>
<g stroke="#000" fill="none">
<path d="M246.55 472.5 v13.8 M496.20 472.5 v13.8 M745.85 472.5 v13.8 M995.50 472.5 v13.8" stroke-width="3.3"/>
<path d="M147.20 472.5 v8.0 M171.39 472.5 v8.0 M191.16 472.5 v8.0 M207.87 472.5 v8.0 M222.35 472.5 v8.0 M235.12 472.5 v8.0 M321.70 472.5 v8.0 M365.66 472.5 v8.0 M396.85 472.5 v8.0 M421.04 472.5 v8.0 M440.81 472.5 v8.0 M457.53 472.5 v8.0 M472.00 472.5 v8.0 M484.77 472.5 v8.0 M571.35 472.5 v8.0 M615.31 472.5 v8.0 M646.50 472.5 v8.0 M670.70 472.5 v8.0 M690.46 472.5 v8.0 M707.18 472.5 v8.0 M721.66 472.5 v8.0 M734.43 472.5 v8.0 M821.00 472.5 v8.0 M864.96 472.5 v8.0 M896.15 472.5 v8.0 M920.35 472.5 v8.0 M940.12 472.5 v8.0 M956.83 472.5 v8.0 M971.31 472.5 v8.0 M984.08 472.5 v8.0" stroke-width="2.5"/>
<path d="M147.2 51.30 h-13.8 M147.2 261.90 h-13.8 M147.2 472.50 h-13.8" stroke-width="3.3"/>
<path d="M147.2 198.50 h-8.0 M147.2 161.42 h-8.0 M147.2 135.11 h-8.0 M147.2 114.70 h-8.0 M147.2 98.02 h-8.0 M147.2 83.92 h-8.0 M147.2 71.71 h-8.0 M147.2 60.94 h-8.0 M147.2 409.10 h-8.0 M147.2 372.02 h-8.0 M147.2 345.71 h-8.0 M147.2 325.30 h-8.0 M147.2 308.62 h-8.0 M147.2 294.52 h-8.0 M147.2 282.31 h-8.0 M147.2 271.54 h-8.0" stroke-width="2.5"/>
<rect x="147.2" y="51.3" width="848.3" height="421.2" stroke-width="3.3" stroke-linejoin="miter"/>
</g>
<text x="230.3" y="28.6" font-size="37.5" textLength="122.5" lengthAdjust="spacingAndGlyphs">lifetime</text>
<text x="365.0" y="28.6" font-size="37.5" textLength="32" lengthAdjust="spacingAndGlyphs">of</text>
<text x="409.5" y="28.6" font-size="37.5" textLength="78" lengthAdjust="spacingAndGlyphs">pairs</text>
<text x="501.8" y="28.6" font-size="37.5" textLength="29.5" lengthAdjust="spacingAndGlyphs">at</text>
<g transform="translate(548.0 28.900000000000002) scale(1.250 0.850)"><text x="0" y="0" font-size="42" class="i" stroke="#fff" stroke-width="0.8">γ</text></g>
<g transform="translate(581 33.5) scale(1 1.42)">
<text x="0" y="0" font-size="37.5" class="m" textLength="28" lengthAdjust="spacingAndGlyphs" stroke="#fff" stroke-width="1.1">≳</text>
</g>
<g transform="translate(620.5 28.900000000000002) scale(1.250 0.850)"><text x="0" y="0" font-size="42" class="i" stroke="#fff" stroke-width="0.8">γ</text></g>
<text x="641.0" y="34.0" font-size="26.5" textLength="38.5" lengthAdjust="spacingAndGlyphs">thr</text>
<text x="697.0" y="29.400000000000002" font-size="41.5" textLength="11.5" lengthAdjust="spacingAndGlyphs">(</text>
<g transform="translate(709.5 28.900000000000002) scale(1.250 0.850)"><text x="0" y="0" font-size="42" class="i" stroke="#fff" stroke-width="0.8">γ</text></g>
<text x="728.8" y="34.2" font-size="26.5" textLength="44.5" lengthAdjust="spacingAndGlyphs">syn</text>
<text x="784.6" y="32.0" font-size="37.5" textLength="31.8" lengthAdjust="spacingAndGlyphs">=</text>
<text x="825.5" y="28.6" font-size="37.5" textLength="46.5" lengthAdjust="spacingAndGlyphs">0.2</text>
<text x="873.0" y="28.6" font-size="32.5" class="i" textLength="23" lengthAdjust="spacingAndGlyphs">σ</text>
<text x="897.5" y="29.400000000000002" font-size="41.5" textLength="11.5" lengthAdjust="spacingAndGlyphs">)</text>
<text x="120.5" y="65.0" font-size="40" textLength="19" lengthAdjust="spacingAndGlyphs" text-anchor="end">1</text>
<text x="120.5" y="275.2" font-size="40" textLength="50" lengthAdjust="spacingAndGlyphs" text-anchor="end">0.1</text>
<text x="120.5" y="486.0" font-size="40" textLength="69" lengthAdjust="spacingAndGlyphs" text-anchor="end">0.01</text>
<text x="207.5" y="526.2" font-size="40" textLength="38.5" lengthAdjust="spacingAndGlyphs">10</text>
<text x="247.7" y="514.5" font-size="28" textLength="20.5" lengthAdjust="spacingAndGlyphs">−</text>
<text x="270.5" y="512.0" font-size="28" textLength="13.5" lengthAdjust="spacingAndGlyphs">1</text>
<text x="469.3" y="526.2" font-size="40" textLength="38.5" lengthAdjust="spacingAndGlyphs">10</text>
<text x="508.6" y="512.0" font-size="28" textLength="13.5" lengthAdjust="spacingAndGlyphs">0</text>
<text x="718.9" y="526.2" font-size="40" textLength="38.5" lengthAdjust="spacingAndGlyphs">10</text>
<text x="758.2" y="512.0" font-size="28" textLength="13.5" lengthAdjust="spacingAndGlyphs">1</text>
<text x="968.6" y="526.2" font-size="40" textLength="38.5" lengthAdjust="spacingAndGlyphs">10</text>
<text x="1007.5" y="512.0" font-size="28" textLength="13.5" lengthAdjust="spacingAndGlyphs">2</text>
<text x="462.0" y="578.0" font-size="40" textLength="30" lengthAdjust="spacingAndGlyphs">Δ</text>
<text x="491.5" y="578.0" font-size="40" class="i" textLength="12.5" lengthAdjust="spacingAndGlyphs">t</text>
<text x="520.8" y="582.9" font-size="46.5" textLength="10.5" lengthAdjust="spacingAndGlyphs">[</text>
<text x="528.5" y="578.0" font-size="40" class="i" textLength="18" lengthAdjust="spacingAndGlyphs">r</text>
<text x="548.5" y="560.7" font-size="28" textLength="32.5" lengthAdjust="spacingAndGlyphs">up</text>
<text x="546.5" y="588.8" font-size="31" class="i" textLength="20.5" lengthAdjust="spacingAndGlyphs">L</text>
<text x="584.5" y="578.8" font-size="44" textLength="12.5" lengthAdjust="spacingAndGlyphs">(</text>
<text x="597.5" y="578.0" font-size="33" class="i" textLength="21" lengthAdjust="spacingAndGlyphs">σ</text>
<text x="617.5" y="578.8" font-size="44" textLength="12.5" lengthAdjust="spacingAndGlyphs">)</text>
<text x="637.0" y="586.3" font-size="56" textLength="13.5" lengthAdjust="spacingAndGlyphs">/</text>
<text x="654.0" y="578.0" font-size="40" class="i" textLength="16" lengthAdjust="spacingAndGlyphs">c</text>
<text x="667.8" y="582.9" font-size="46.5" textLength="10.5" lengthAdjust="spacingAndGlyphs">]</text>
<g transform="translate(28.5 314.5) rotate(-90)">
<text x="-2.5" y="1.6" font-size="39" class="m" textLength="34" lengthAdjust="spacingAndGlyphs">𝒫</text>
<text x="31.5" y="1.4" font-size="40.5" textLength="13" lengthAdjust="spacingAndGlyphs">(</text>
<text x="46.2" y="0.3" font-size="40.5" textLength="29.5" lengthAdjust="spacingAndGlyphs">Δ</text>
<text x="75.0" y="-0.5" font-size="40" class="i" textLength="13.5" lengthAdjust="spacingAndGlyphs">t</text>
<text x="90.0" y="1.4" font-size="40.5" textLength="13" lengthAdjust="spacingAndGlyphs">)</text>
</g>
<path d="M816.1 142.3 H880.6" stroke="#1f77b4" stroke-width="3.8" fill="none"/>
<path d="M816.1 184.4 H880.6" stroke="#ff7f0e" stroke-width="3.8" fill="none"/>
<path d="M816.1 226.6 H880.6" stroke="#2ca02c" stroke-width="3.8" fill="none"/>
<text x="903.0" y="153.6" font-size="31.5" textLength="65.5" lengthAdjust="spacingAndGlyphs">3000</text>
<text x="903.0" y="195.7" font-size="31.5" textLength="65.5" lengthAdjust="spacingAndGlyphs">2000</text>
<text x="903.0" y="237.9" font-size="31.5" textLength="65.5" lengthAdjust="spacingAndGlyphs">1000</text>
<text x="836.0" y="106.8" font-size="37.5" class="i" textLength="22" lengthAdjust="spacingAndGlyphs">L</text>
<text x="859.0" y="112.0" font-size="26.5" class="i" textLength="17" lengthAdjust="spacingAndGlyphs">x</text>
<text x="880.2" y="115.7" font-size="56" textLength="17" lengthAdjust="spacingAndGlyphs">/</text>
<text x="899.0" y="106.8" font-size="40.5" textLength="29.5" lengthAdjust="spacingAndGlyphs">Δ</text>
<text x="928.5" y="106.8" font-size="37.5" class="i" textLength="22" lengthAdjust="spacingAndGlyphs">x</text>
<path d="M172.6 383.7 H236.8" stroke="#808080" stroke-width="3.8" fill="none"/>
<path d="M173.8 428.9 H236.8" stroke="#808080" stroke-dasharray="14.06 6.08" stroke-width="3.8" fill="none"/>
<g transform="translate(224.0 350.4) scale(1.163 0.790)"><text x="0" y="0" font-size="42" class="i" stroke="#fff" stroke-width="0.8">γ</text></g>
<text x="244.5" y="356.2" font-size="26.5" textLength="37.5" lengthAdjust="spacingAndGlyphs">thr</text>
<text x="259.5" y="394.4" font-size="31.5" textLength="16.5" lengthAdjust="spacingAndGlyphs">2</text>
<g transform="translate(275.3 394.6) scale(1.037 0.705)"><text x="0" y="0" font-size="42" class="i" stroke="#fff" stroke-width="0.8">γ</text></g>
<text x="293.0" y="398.4" font-size="23.5" textLength="39" lengthAdjust="spacingAndGlyphs">syn</text>
<text x="260.0" y="438.7" font-size="27.5" class="i" textLength="18" lengthAdjust="spacingAndGlyphs">σ</text>
</svg></body></html>
